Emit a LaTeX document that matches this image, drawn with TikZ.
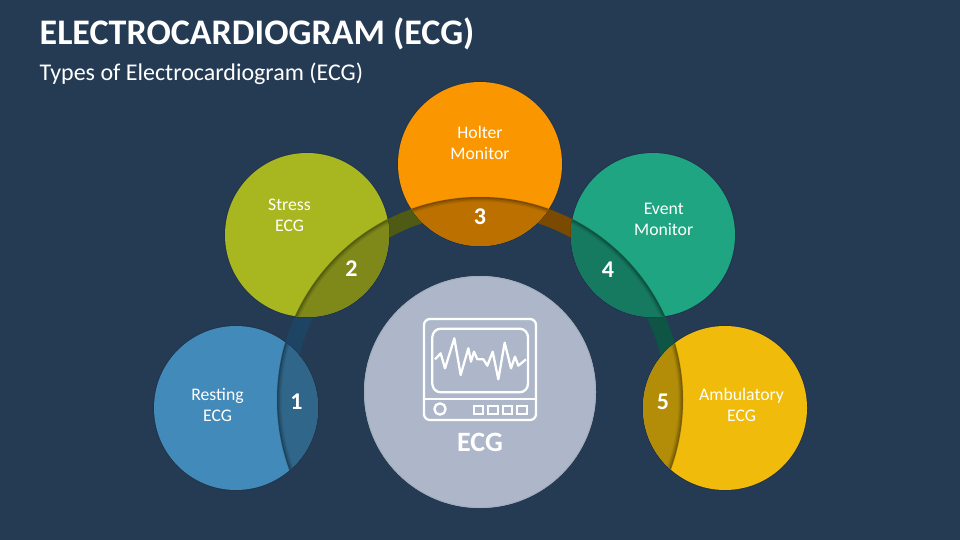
\documentclass[tikz,border=0pt]{standalone}
\usepackage{fontspec}
\setmainfont{Carlito}
\definecolor{bgc}{HTML}{253B54}
\definecolor{bluec}{HTML}{418ABA}\definecolor{blued}{HTML}{2F6689}\definecolor{bluer}{HTML}{1E4463}
\definecolor{greenc}{HTML}{A8B720}\definecolor{greend}{HTML}{7E8919}\definecolor{greenr}{HTML}{4F5A14}
\definecolor{orangec}{HTML}{FA9600}\definecolor{oranged}{HTML}{BB7000}\definecolor{oranger}{HTML}{7A4A00}
\definecolor{tealc}{HTML}{1FA582}\definecolor{teald}{HTML}{167A60}\definecolor{tealr}{HTML}{0F5545}
\definecolor{yellowc}{HTML}{F0BB0B}\definecolor{yellowd}{HTML}{B38C08}
\definecolor{hubc}{HTML}{ADB7C9}
\usetikzlibrary{calc}
\tikzset{x=1pt,y=-1pt,
 lbl/.style={text=white,font=\fontsize{17.7}{21}\selectfont,align=center,inner sep=0pt},
 num/.style={text=white,font=\fontsize{24}{24}\selectfont\bfseries,inner sep=0pt},
 icon/.style={draw=white,line width=2.3pt,fill=none,line join=round},
 iconthin/.style={draw=white,line width=1.8pt,fill=none}}
\newcommand{\bandseg}[3]{%
 \fill[#3] (480,400) ++(#1:203) arc[start angle=#1,end angle=#2,radius=203]
   -- ($(480,400)+(#2:186)$) arc[start angle=#2,end angle=#1,radius=186] -- cycle;}
\newcommand{\bubble}[4]{%
 \fill[black,opacity=.10] (#1,#2) circle[radius=83];
 \fill[#3] (#1,#2) circle[radius=82];
 \begin{scope}
  \clip (#1,#2) circle[radius=82];
  \fill[#4] (480,400) circle[radius=203];
  \draw[black,opacity=.08,line width=5pt] (480,400) circle[radius=201];
  \draw[black,opacity=.12,line width=3pt] (480,400) circle[radius=201.5];
  \draw[black,opacity=.16,line width=1.5pt] (480,400) circle[radius=202.2];
 \end{scope}}
\begin{document}
\begin{tikzpicture}
\useasboundingbox (0,0) rectangle (960,540);
\fill[bgc] (0,0) rectangle (960,540);
\node[anchor=west,text=white,inner sep=0pt,font=\fontsize{36}{36}\selectfont\bfseries] (title) at (39.5,34) {ELECTROCARDIOGRAM (ECG)};
\node[anchor=west,text=white,inner sep=0pt,font=\fontsize{24}{24}\selectfont] (subtitle) at (39.5,74) {Types of Electrocardiogram (ECG)};
\bandseg{-172}{-120}{bluer}
\bandseg{-120}{-90}{greenr}
\bandseg{-90}{-60}{oranger}
\bandseg{-60}{-8}{tealr}
\bubble{236}{408}{bluec}{blued}
\bubble{307}{235}{greenc}{greend}
\bubble{480}{164}{orangec}{oranged}
\bubble{653}{235}{tealc}{teald}
\bubble{725}{408}{yellowc}{yellowd}
\fill[hubc] (480,392) circle[radius=116];
\draw[draw=hubc!85!gray,line width=1pt] (480,392) circle[radius=115.5];
\node[lbl] (resting) at (217.5,405) {Resting\\ECG};
\node[lbl] (stress) at (289.5,215) {Stress\\ECG};
\node[lbl] (holter) at (480,143) {Holter\\Monitor};
\node[lbl] (event) at (663.7,219) {Event\\Monitor};
\node[lbl] (ambu) at (741.5,405) {Ambulatory\\ECG};
\node[num] (n1) at (296.5,402) {1};
\node[num] (n2) at (351.5,269) {2};
\node[num] (n3) at (480,217) {3};
\node[num] (n4) at (608,270) {4};
\node[num] (n5) at (663,402) {5};
\node[text=white,inner sep=0pt,font=\fontsize{28}{28}\selectfont\bfseries] (hublabel) at (480,442) {ECG};
\begin{scope}[shift={(400,300)},x=0.3333pt,y=-0.3333pt]
 \draw[icon,rounded corners=6pt] (72,57) rectangle (408,360);
 \draw[icon,rounded corners=8.5pt] (97,86) rectangle (384,277);
 \draw[iconthin,line width=1.3pt] (72,297) -- (408,297);
 \draw[icon] (120,327) circle[radius=17];
 \foreach \xa in {222,265,308,352}
   \draw[iconthin] (\xa,318) rectangle ++(28,24);
 \draw[icon] (105,178) -- (122,160) -- (135,205) -- (163,115) -- (182,225) -- (205,145) -- (213,185) -- (222,155) -- (232,178) -- (250,178) -- (262,197) -- (278,155) -- (295,238) -- (314,128) -- (333,205) -- (345,170) -- (355,197) -- (378,178);
\end{scope}
\end{tikzpicture}
\end{document}
